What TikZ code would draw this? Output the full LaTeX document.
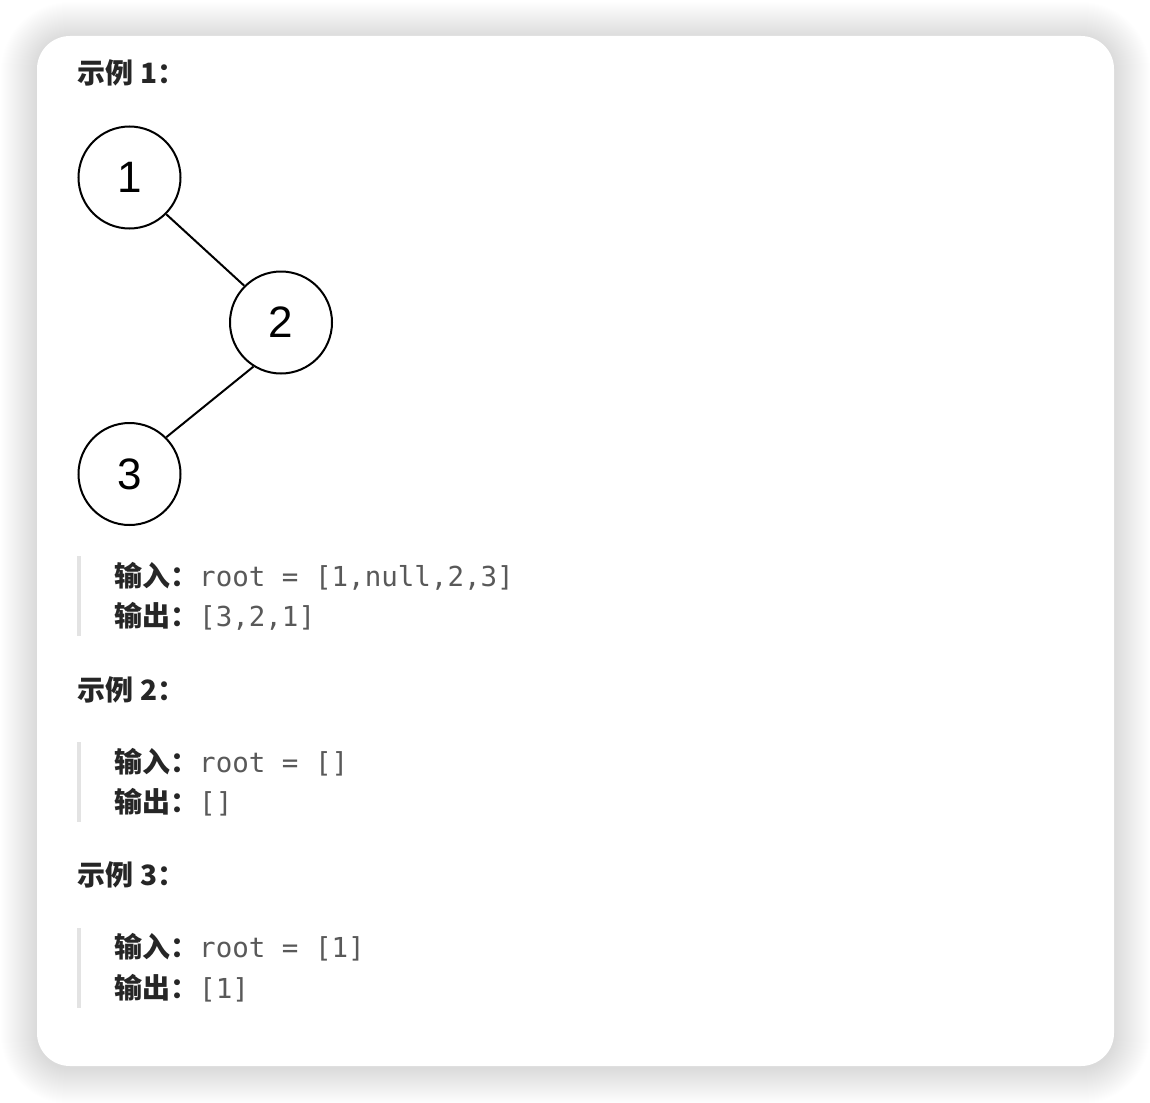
\documentclass[tikz,border=0pt]{standalone}
\usepackage{fontspec}
\setmainfont{Liberation Sans}
\setmonofont{DejaVu Sans Mono}
\newfontfamily\cjk{Noto Sans CJK SC}
\newfontfamily\arialf{Liberation Sans}
\definecolor{textdark}{HTML}{262626}
\definecolor{codegrey}{HTML}{595959}
\definecolor{barcol}{HTML}{E3E3E3}
\begin{document}
\begin{tikzpicture}[x=1pt,y=-1pt,
  tnode/.style={circle, draw=black, line width=2pt, minimum size=102pt, inner sep=0pt,
    font=\arialf\fontsize{44}{44}\selectfont},
  edge/.style={line width=2pt},
  head/.style={anchor=base west, inner sep=0pt, text=textdark,
    font=\cjk\bfseries\fontsize{28}{34}\selectfont},
  lab/.style={anchor=base west, inner sep=0pt, text=textdark,
    font=\cjk\bfseries\fontsize{28}{34}\selectfont},
  codetxt/.style={anchor=base west, inner sep=0pt, text=codegrey,
    font=\ttfamily\fontsize{27.5}{34}\selectfont},
  quotebar/.style={fill=barcol, draw=none}]
\useasboundingbox (0,0) rectangle (1150,1102);
\fill[white] (0,0) rectangle (1150,1102);
% shadow
\foreach \i [evaluate=\i as \r using 33+\i] in {1,...,36}
  \fill[black, opacity=0.0028, rounded corners=\r pt] (37-\i,36-\i+2) rectangle (1114+\i,1066+\i+2);
% card
\fill[white, rounded corners=33pt] (37,36) rectangle (1114,1066);

% Example 1
\node[head] (h1) at (77.5,84) {示例 1：};
\node[tnode] (n1) at (129.5,177.5) {1};
\node[tnode] (n2) at (281,322.5) {2};
\node[tnode] (n3) at (129.5,474) {3};
\draw[edge] (n1.-45) -- (n2.135);
\draw[edge] (n2.238) -- (n3.45);

\fill[quotebar] (77,556) rectangle (81,636);
\node[lab] (in1) at (114,586) {输入：};
\node[codetxt] (inv1) at (199,586) {root = [1,null,2,3]};
\node[lab] (out1) at (114,626) {输出：};
\node[codetxt] (outv1) at (199,626) {[3,2,1]};

% Example 2
\node[head] (h2) at (77.5,700) {示例 2：};
\fill[quotebar] (77,742) rectangle (81,822);
\node[lab] (in2) at (114,772) {输入：};
\node[codetxt] (inv2) at (199,772) {root = []};
\node[lab] (out2) at (114,812) {输出：};
\node[codetxt] (outv2) at (199,812) {[]};

% Example 3
\node[head] (h3) at (77.5,885) {示例 3：};
\fill[quotebar] (77,928) rectangle (81,1008);
\node[lab] (in3) at (114,957) {输入：};
\node[codetxt] (inv3) at (199,957) {root = [1]};
\node[lab] (out3) at (114,998) {输出：};
\node[codetxt] (outv3) at (199,998) {[1]};
\end{tikzpicture}
\end{document}
